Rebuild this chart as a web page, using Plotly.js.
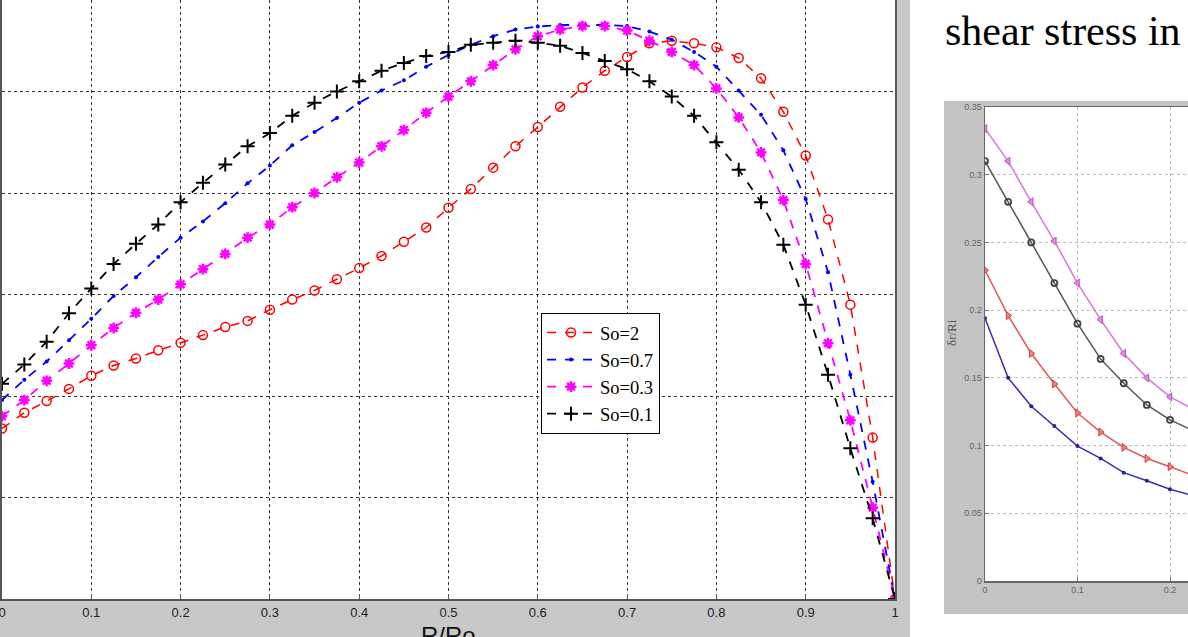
<!DOCTYPE html>
<html><head><meta charset="utf-8">
<script src="https://cdn.plot.ly/plotly-3.0.1.min.js"></script>
<style>html,body{margin:0;padding:0;background:#fff}#chart{width:1188px;height:637px}</style>
</head><body><div id="chart"></div>
<script>
// ---- main chart data (R/Ro vs shear stress, grid units) ----
var rRo = [0,0.025,0.05,0.075,0.1,0.125,0.15,0.175,0.2,0.225,0.25,0.275,0.3,0.325,0.35,0.375,0.4,0.425,0.45,0.475,0.5,0.525,0.55,0.575,0.6,0.625,0.65,0.675,0.7,0.725,0.75,0.775,0.8,0.825,0.85,0.875,0.9,0.925,0.95,0.975,1];
var so2   = [1.68,1.835,1.95,2.07,2.20,2.30,2.37,2.45,2.525,2.60,2.68,2.74,2.85,2.95,3.04,3.15,3.26,3.38,3.52,3.66,3.855,4.04,4.25,4.46,4.65,4.85,5.04,5.205,5.34,5.475,5.50,5.475,5.435,5.33,5.13,4.80,4.37,3.74,2.90,1.59,0];
var so07  = [1.96,2.16,2.34,2.55,2.76,2.985,3.17,3.37,3.56,3.72,3.90,4.095,4.27,4.47,4.60,4.74,4.89,5.01,5.11,5.245,5.36,5.46,5.545,5.61,5.64,5.655,5.655,5.655,5.645,5.59,5.51,5.39,5.245,5.01,4.77,4.42,3.94,3.22,2.21,1.155,0];
var so03  = [1.80,1.96,2.15,2.32,2.50,2.67,2.82,2.95,3.10,3.25,3.40,3.56,3.69,3.86,4.00,4.155,4.30,4.46,4.62,4.79,4.95,5.10,5.26,5.415,5.545,5.61,5.645,5.645,5.60,5.50,5.39,5.26,5.03,4.745,4.40,3.93,3.30,2.52,1.76,0.90,0];
var so01  = [2.12,2.31,2.535,2.815,3.06,3.30,3.50,3.69,3.91,4.10,4.28,4.46,4.59,4.76,4.89,5.00,5.10,5.205,5.28,5.35,5.39,5.46,5.48,5.50,5.48,5.45,5.38,5.30,5.22,5.10,4.95,4.76,4.50,4.23,3.91,3.49,2.90,2.21,1.485,0.795,0];
var legendNames = ["So=2","So=0.7","So=0.3","So=0.1"];
var xTickVals = [0,0.1,0.2,0.3,0.4,0.5,0.6,0.7,0.8,0.9,1];
var xTickText = ["0","0.1","0.2","0.3","0.4","0.5","0.6","0.7","0.8","0.9","1"];

// ---- inset chart data (δr/Ri) ----
var insetX   = [0,0.025,0.05,0.075,0.1,0.125,0.15,0.175,0.2,0.225];
var insetMag = [0.334,0.31,0.28,0.251,0.22,0.193,0.168,0.150,0.136,0.127];
var insetBlk = [0.31,0.28,0.25,0.22,0.19,0.164,0.146,0.130,0.119,0.111];
var insetRed = [0.2295,0.196,0.168,0.1455,0.124,0.110,0.0987,0.0905,0.0844,0.078];
var insetBlu = [0.194,0.150,0.129,0.1144,0.0996,0.0905,0.080,0.074,0.0677,0.063];
var insetXTicks = [0,0.1,0.2];
var insetYTicks = [0,0.05,0.1,0.15,0.2,0.25,0.3,0.35];
var insetYText  = ["0","0.05","0.1","0.15","0.2","0.25","0.3","0.35"];

var W = 1188, H = 637;
function px(x){return x/W;}
function py(y){return (H-y)/H;}

var traces = [
  {x:rRo, y:so2, name:legendNames[0], mode:'lines+markers', xaxis:'x', yaxis:'y',
   line:{color:'#ff0000', dash:'dash', width:1.5},
   marker:{symbol:'circle-open', size:9, color:'#ff0000', line:{width:1.5, color:'#ff0000'}}},
  {x:rRo, y:so07, name:legendNames[1], mode:'lines+markers', xaxis:'x', yaxis:'y',
   line:{color:'#0000ff', dash:'dash', width:1.8},
   marker:{symbol:'circle', size:4, color:'#0000ff'}},
  {x:rRo, y:so03, name:legendNames[2], mode:'lines+markers', xaxis:'x', yaxis:'y',
   line:{color:'#ff00ff', dash:'dash', width:1.8},
   marker:{symbol:'asterisk-open', size:9, color:'#ff00ff', line:{width:2.5, color:'#ff00ff'}}},
  {x:rRo, y:so01, name:legendNames[3], mode:'lines+markers', xaxis:'x', yaxis:'y',
   line:{color:'#000000', dash:'dash', width:1.8},
   marker:{symbol:'cross-thin-open', size:10, color:'#000000', line:{width:2, color:'#000000'}}},

  {x:insetX, y:insetMag, mode:'lines+markers', xaxis:'x2', yaxis:'y2', showlegend:false,
   line:{color:'#d679d6', width:1.5}, marker:{symbol:'triangle-left', size:7, color:'#e08ce0', line:{width:1,color:'#c050c0'}}},
  {x:insetX, y:insetBlk, mode:'lines+markers', xaxis:'x2', yaxis:'y2', showlegend:false,
   line:{color:'#555555', width:1.5}, marker:{symbol:'circle-open', size:6, color:'#444', line:{width:1.8,color:'#444'}}},
  {x:insetX, y:insetRed, mode:'lines+markers', xaxis:'x2', yaxis:'y2', showlegend:false,
   line:{color:'#dd5a5a', width:1.5}, marker:{symbol:'triangle-right', size:7, color:'#f08080', line:{width:1,color:'#d04040'}}},
  {x:insetX, y:insetBlu, mode:'lines+markers', xaxis:'x2', yaxis:'y2', showlegend:false,
   line:{color:'#3333aa', width:1.5}, marker:{symbol:'circle', size:4, color:'#222299'}}
];

var layout = {
  width:W, height:H,
  margin:{l:0,r:0,t:0,b:0},
  paper_bgcolor:'#ffffff', plot_bgcolor:'#ffffff',
  showlegend:true,
  legend:{x:px(541), y:py(313), xanchor:'left', yanchor:'top',
    bgcolor:'#ffffff', bordercolor:'#000000', borderwidth:1,
    font:{family:'Liberation Serif, Times New Roman, serif', size:18.5, color:'#000'},
    itemwidth:48, tracegroupgap:0},
  xaxis:{domain:[px(2), px(895)], range:[0,1], tickvals:xTickVals, ticktext:xTickText,
    showgrid:true, gridcolor:'#333', griddash:'dot', gridwidth:1,
    showline:true, linecolor:'#555', linewidth:2, zeroline:false,
    ticks:'inside', ticklen:5, tickcolor:'#555', ticklabeloverflow:'allow',
    tickfont:{family:'Liberation Sans, Arial, sans-serif', size:13, color:'#222'},
    anchor:'y', fixedrange:true},
  yaxis:{domain:[py(599), 1], range:[0, 599/101.5], dtick:1,
    showgrid:true, gridcolor:'#333', griddash:'dot', gridwidth:1,
    showline:true, mirror:true, linecolor:'#555', linewidth:2, zeroline:false,
    showticklabels:false, ticks:'', anchor:'x', fixedrange:true},
  xaxis2:{domain:[px(985), 1], range:[0, (1188-985)/925], tickvals:insetXTicks,
    showgrid:true, gridcolor:'#bbb', griddash:'dot', gridwidth:1,
    showline:true, mirror:true, linecolor:'#666', linewidth:1.5, zeroline:false,
    ticks:'inside', ticklen:4, tickcolor:'#777',
    tickfont:{family:'Liberation Sans, Arial, sans-serif', size:9, color:'#666'},
    anchor:'y2', fixedrange:true},
  yaxis2:{domain:[py(581), py(107)], range:[0,0.35], tickvals:insetYTicks, ticktext:insetYText,
    showgrid:true, gridcolor:'#bbb', griddash:'dot', gridwidth:1,
    showline:true, linecolor:'#666', linewidth:1.5, zeroline:false,
    ticks:'inside', ticklen:4, tickcolor:'#777',
    tickfont:{family:'Liberation Sans, Arial, sans-serif', size:9, color:'#666'},
    anchor:'x2', fixedrange:true},
  shapes:[
    {type:'rect', xref:'paper', yref:'paper', x0:0, x1:px(910), y0:0, y1:1, fillcolor:'#c8c8c8', line:{width:0}, layer:'below'},
    {type:'rect', xref:'paper', yref:'paper', x0:px(944), x1:1, y0:py(614), y1:py(101), fillcolor:'#c4c4c4', line:{width:0}, layer:'below'},
    {type:'rect', xref:'x domain', yref:'y domain', x0:0, x1:1, y0:0, y1:1, fillcolor:'#ffffff', line:{width:0}, layer:'below'},
    {type:'rect', xref:'x2 domain', yref:'y2 domain', x0:0, x1:1, y0:0, y1:1, fillcolor:'#ffffff', line:{width:0}, layer:'below'}
  ],
  annotations:[
    {text:'R/Ro', xref:'paper', yref:'paper', x:px(448), y:py(620), xanchor:'center', yanchor:'top',
     showarrow:false, font:{family:'Liberation Sans, Arial, sans-serif', size:24, color:'#111'}},
    {text:'shear stress in', xref:'paper', yref:'paper', x:px(943), y:py(6), xanchor:'left', yanchor:'top',
     showarrow:false, font:{family:'Liberation Serif, Times New Roman, serif', size:42, color:'#000'}},
    {text:'δr/Ri', xref:'paper', yref:'paper', x:px(951), y:py(333), xanchor:'center', yanchor:'middle',
     textangle:-90, showarrow:false, font:{family:'Liberation Serif, Times New Roman, serif', size:13, color:'#555'}}
  ]
};

Plotly.newPlot('chart', traces, layout, {displayModeBar:false, staticPlot:true});
</script>
</body></html>
